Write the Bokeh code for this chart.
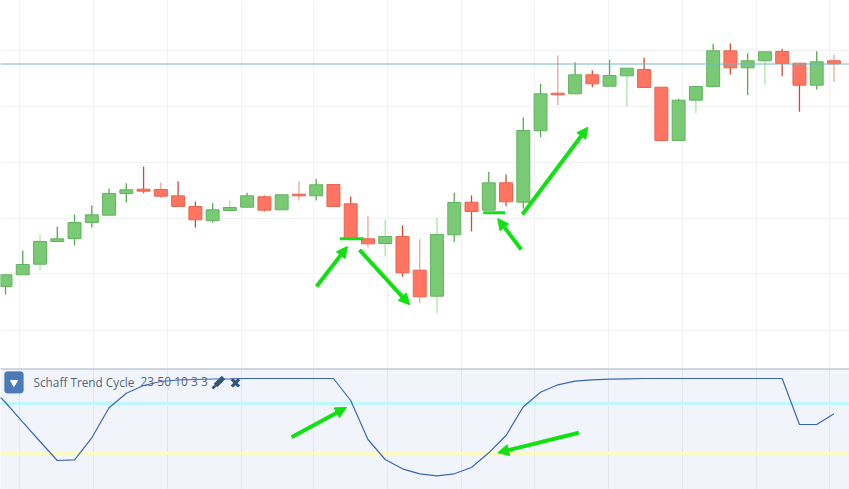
from bokeh.plotting import figure
from bokeh.layouts import column
from bokeh.models import Range1d, FixedTicker, Span, Arrow, NormalHead, Label, BoxAnnotation, ColumnDataSource
from bokeh.embed import file_html
from bokeh.resources import INLINE

opens = [203,214.7,225.3,248,251,267,274.3,296,300.3,300,293.7,283,269,279,282.3,292.7,279.7,295.3,293.7,305,
         285.7,250.7,246,253,219.3,193.3,254.7,287.3,279.3,306.7,287.3,358.7,396.3,395.7,414.7,403.3,413.7,420,
         402.3,349,389.3,403,438.7,421.7,428.7,438,426.3,404.3,428.7]
closes = [214.7,225,248,250.7,267,274.7,296,299.7,298.3,293.3,283,269.7,279.7,282,293.7,279.3,294.7,293.7,304.7,283,
          250.7,245.7,253,216.7,192.7,255,287,278,306.7,287.7,359,395.7,394.7,414.7,405.7,414,421.3,402,
          349,389.3,403,438.7,421.7,428.7,437.7,426,404.3,427.7,425.7]
highs = [215,239,255,263,275,284,301,306.3,323,307,308.3,288,286.3,289,296.7,294,294.7,308.3,310.7,305,
         293,273.3,269.7,264,250.3,272,296.7,294.3,317.7,315,372,405.7,434,427.3,419,429.7,421.3,431.7,
         402.3,390.7,404,445.7,446,436.3,437.7,440.7,426.3,438.3,435]
lows = [195,214.7,219,248,244,262,274.3,287,296.3,291.3,283,262,266.7,279,282,278,279.7,289,289,283,
        250.7,242,233,212.7,186.3,176.3,247.3,258.3,279.3,283.3,281,352.3,384.3,395.7,402.3,403.3,383,402,
        348.3,349,376.3,402.3,415,394.3,405,413.3,377.7,400,407.7]
stc = [76,56.3,37,18,18.7,40.7,70.7,85.3,93,97,98.5,99,99.5,99.7,100,100,100,100,100,100,
       78,39,19,9.7,4.7,2.7,4.7,11,25.7,43,71.7,86.3,93.7,97.3,98.7,99.3,99.7,100,100,100,100,100,100,100,100,100,54,54,64.7]
stc_before_first = 81
faded_wicks = [2, 9, 13, 17, 21, 22, 24, 25, 32, 36, 40, 44, 48]

grid_bars = [0.83,5.12,9.37,13.66,17.86,22.15,26.44,30.67,34.95,39.22,43.49,47.77]
grid_prices = [439,383,327,271,216,159.5]
price_level = 425.5
stc_upper, stc_lower = 75, 25
arrows_price = [(18.02,203,19.81,243),(20.51,239.7,23.42,184.7),(29.88,240,28.52,271),(29.95,275,33.74,362.3)]
flats_price = [(19.37,20.76,250.7),(27.68,28.95,276.7)]
arrows_stc = [(16.57,41.3,19.76,71),(33.22,45.7,28.52,25.7)]
title_name = "Schaff Trend Cycle"
title_params = "23 50 10 3 3"

GREEN, GREEN_D, GREEN_W, GREEN_P = "#7ac974", "#62b45e", "#58a856", "#a8e8a2"
RED, RED_D, RED_W, RED_P = "#ff7561", "#e8644f", "#cc4a38", "#e8a899"
ARROW = "#12e012"
xr = (-0.29, 48.9)

def base(h, yr, bg):
    f = figure(width=849, height=h, x_range=Range1d(*xr), y_range=Range1d(*yr), output_backend="svg",
               toolbar_location=None, min_border=0, background_fill_color=bg, border_fill_color=bg)
    f.outline_line_color = None
    f.xaxis.visible = False
    f.yaxis.visible = False
    f.xgrid.ticker = FixedTicker(ticks=grid_bars)
    return f

def add_arrow(f, a):
    f.add_layout(Arrow(x_start=a[0], y_start=a[1], x_end=a[2], y_end=a[3], line_color=ARROW, line_width=4,
                       end=NormalHead(size=11, fill_color=ARROW, line_color=ARROW)))

bars = list(range(len(opens)))
up = [c >= o for o, c in zip(opens, closes)]
src = ColumnDataSource(dict(
    x=bars, high=highs, low=lows,
    top=[max(o, c) for o, c in zip(opens, closes)],
    bot=[min(o, c) for o, c in zip(opens, closes)],
    fill=[GREEN if u else RED for u in up],
    line=[GREEN_D if u else RED_D for u in up],
    wick=[(GREEN_P if u else RED_P) if i in faded_wicks else (GREEN_W if u else RED_W) for i, u in enumerate(up)],
))

p = base(368, (121, 489), "#ffffff")
p.xgrid.grid_line_color = "#f0f2f6"
p.ygrid.ticker = FixedTicker(ticks=grid_prices)
p.ygrid.grid_line_color = "#f0f2f6"
p.segment("x", "high", "x", "low", source=src, color="wick", line_width=1.3)
p.vbar("x", width=0.75, top="top", bottom="bot", source=src, fill_color="fill", line_color="line", line_width=1)
p.add_layout(Span(location=price_level, dimension="width", line_color="#6fb8c8", line_width=1))
for a in arrows_price:
    add_arrow(p, a)
p.segment([f[0] for f in flats_price], [f[2] for f in flats_price], [f[1] for f in flats_price],
          [f[2] for f in flats_price], color=ARROW, line_width=3)

q = base(121, (-11, 110), "#f1f5fb")
q.xgrid.grid_line_color = "#e2e7ee"
q.ygrid.visible = False
q.add_layout(Span(location=110, dimension="width", line_color="#a9b4c4", line_width=2, level="underlay"))
q.add_layout(Span(location=stc_upper, dimension="width", line_color="#bdf8fd", line_width=3, level="underlay"))
q.add_layout(Span(location=stc_lower, dimension="width", line_color="#fcfbc0", line_width=3, level="underlay"))
q.line([-0.29] + bars, [stc_before_first] + stc, line_color="#3a66b8", line_width=1.2)
for a in arrows_stc:
    add_arrow(q, a)
q.add_layout(BoxAnnotation(left=-0.06, right=1.04, top=107, bottom=85.3, fill_color="#4a7ab8", fill_alpha=1,
                           line_color="#4a7ab8", border_radius=3, level="underlay"))
q.scatter([0.49], [96], marker="inverted_triangle", size=7, fill_color="#ffffff", line_color="#ffffff")
font = "Open Sans"
q.add_layout(Label(x=33, y=108, x_units="screen", y_units="screen", text=title_name, text_font=font,
                   text_font_size="11.8px", text_color="#566676", text_baseline="alphabetic"))
q.add_layout(Label(x=140, y=108, x_units="screen", y_units="screen", text=title_params, text_font=font,
                   text_font_size="12px", text_color="#566676", text_baseline="alphabetic"))
q.segment([12.17], [93], [12.63], [101], color="#2f5678", line_width=5)
q.segment([11.99], [90], [12.17], [93], color="#2f5678", line_width=2.5)
q.add_layout(Label(x=229, y=107, x_units="screen", y_units="screen", text="\u2716", text_font="DejaVu Sans",
                   text_font_size="14px", text_color="#2f5678", text_baseline="alphabetic"))

page = column(p, q, spacing=0)
open("out.html", "w").write(file_html(page, INLINE))
